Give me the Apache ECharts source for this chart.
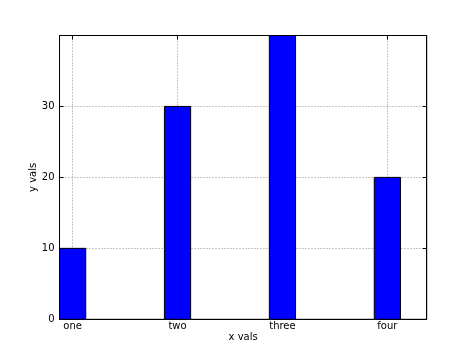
<!DOCTYPE html>
<html>
<head>
<meta charset="utf-8">
<script src="https://cdn.jsdelivr.net/npm/echarts@6/dist/echarts.min.js"></script>
<style>html,body{margin:0;padding:0;background:#fff}#c{width:474px;height:355px}</style>
</head>
<body>
<div id="c"></div>
<script>
const categories = ['one', 'two', 'three', 'four'];
const positions = [0, 1, 2, 3];
const values = [10, 30, 40, 20];
const yTicks = [0, 10, 20, 30];
const barWidthUnits = 0.25;

const chart = echarts.init(document.getElementById('c'));
const font = 'DejaVu Sans';
const tickStyle = {show: true, inside: true, length: 4, lineStyle: {color: '#000', width: 1}};
const gridLine = {show: true, lineStyle: {color: '#444', type: [1, 2], width: 0.6}};
chart.setOption({
  animation: false,
  grid: {left: 59.5, top: 35.5, right: 47.3, bottom: 35.7, show: true, borderColor: '#000', borderWidth: 1},
  xAxis: [{
    type: 'value', min: -0.125, max: 3.375,
    name: 'x vals', nameLocation: 'middle', nameGap: 13, nameMoveOverlap: false,
    nameTextStyle: {fontFamily: font, fontSize: 10, color: '#000'},
    axisLine: {show: true, onZero: false, lineStyle: {color: '#000'}},
    axisTick: Object.assign({customValues: positions}, tickStyle),
    axisLabel: {customValues: positions, fontFamily: font, fontSize: 10, color: '#000', margin: 2,
      formatter: v => categories[positions.indexOf(Math.round(v))] || ''},
    splitLine: gridLine
  }, {
    type: 'value', min: -0.125, max: 3.375, position: 'top',
    axisLine: {show: true, onZero: false, lineStyle: {color: '#000'}},
    axisTick: Object.assign({customValues: positions}, tickStyle),
    axisLabel: {show: false}, splitLine: {show: false}
  }],
  yAxis: [{
    type: 'value', min: 0, max: 40, interval: 10,
    name: 'y vals', nameLocation: 'middle', nameGap: 21, nameMoveOverlap: false,
    nameTextStyle: {fontFamily: font, fontSize: 10, color: '#000'},
    axisLine: {show: true, onZero: false, lineStyle: {color: '#000'}},
    axisTick: tickStyle,
    axisLabel: {fontFamily: font, fontSize: 10, color: '#000', margin: 5,
      formatter: v => yTicks.indexOf(v) >= 0 ? String(v) : ''},
    splitLine: gridLine
  }, {
    type: 'value', min: 0, max: 40, interval: 10, position: 'right',
    axisLine: {show: true, onZero: false, lineStyle: {color: '#000'}},
    axisTick: tickStyle, axisLabel: {show: false}, splitLine: {show: false}
  }],
  series: [{
    type: 'custom',
    xAxisIndex: 0, yAxisIndex: 0,
    data: positions.map((p, i) => [p, values[i]]),
    encode: {x: 0, y: 1},
    renderItem: function (params, api) {
      const x = api.value(0), y = api.value(1);
      const p1 = api.coord([x - barWidthUnits / 2, y]);
      const p2 = api.coord([x + barWidthUnits / 2, 0]);
      return {
        type: 'rect',
        shape: {x: p1[0], y: p1[1], width: p2[0] - p1[0], height: p2[1] - p1[1]},
        style: {fill: '#0000ff', stroke: '#000', lineWidth: 1}
      };
    }
  }]
});
</script>
</body>
</html>
